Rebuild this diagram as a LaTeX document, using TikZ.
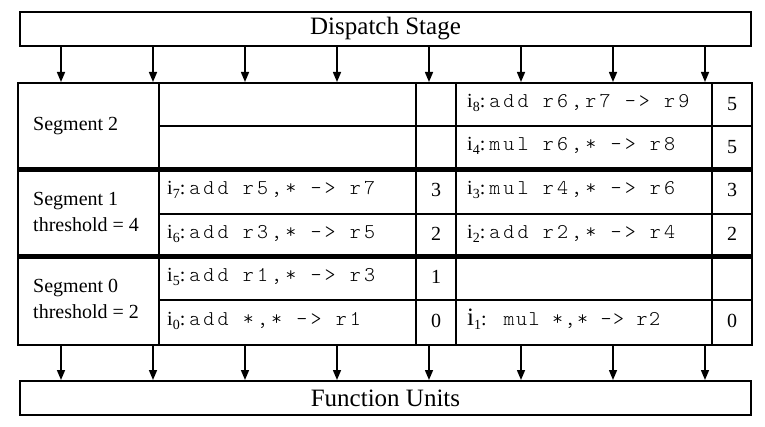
\documentclass[tikz,border=0pt]{standalone}
\usepackage{fontspec}
\setmainfont{Liberation Serif}
\newfontfamily\codefont[LetterSpace=15]{lmmonolt10-regular.otf}
\newfontfamily\codefontnarrow[LetterSpace=7]{lmmonolt10-regular.otf}
\usetikzlibrary{arrows.meta}

% #1 size of i, #2 index, #3 gap, #4 code font, #5 code
\newcommand{\instr}[5]{{\fontsize{#1}{#1}\selectfont i}\raisebox{-4pt}{\fontsize{14}{14}\selectfont #2}:\hspace{#3}{#4\fontsize{21}{21}\selectfont #5}}

\begin{document}
\begin{tikzpicture}[x=1pt, y=-1pt,
	stagebox/.style={draw, line width=2pt, minimum width=731pt, minimum height=34pt, inner sep=0pt, font=\fontsize{25}{30}\selectfont},
	thinline/.style={line width=1.5pt},
	thickline/.style={line width=5pt},
	feed/.style={line width=1.5pt, -{Triangle[width=8pt,length=10pt]}},
	seglabel/.style={anchor=west, align=left, inner sep=0pt, font=\fontsize{20}{26}\selectfont},
	instrtext/.style={anchor=base west, inner sep=0pt, font=\fontsize{20}{24}\selectfont},
	prio/.style={inner sep=0pt, font=\fontsize{20}{24}\selectfont}]
	\useasboundingbox (0,0) rectangle (765,427);
	% stages
	\node[stagebox] (dispatch) at (385.5,29) {Dispatch Stage};
	\node[stagebox] (units) at (385.5,398) {Function Units};
	% issue queue grid
	\draw[line width=2pt] (18,83) rectangle (752,345);
	\foreach \x in {159,416,456,712}
		\draw[thinline] (\x,83) -- (\x,345);
	\foreach \y in {126,214,300}
		\draw[thinline] (159,\y) -- (752,\y);
	\foreach \y in {170,257}
		\draw[thickline] (18,\y) -- (752,\y);
	% arrows in and out
	\foreach \x [count=\i] in {61,153,245,337,429,521,613,705} {
		\coordinate (in\i) at (\x,82);
		\coordinate (out\i) at (\x,345);
		\draw[feed] (dispatch.south -| in\i) -- (in\i);
		\draw[feed] (out\i) -- (units.north -| out\i);
	}
	% segment labels
	\node[seglabel] (seg2) at (33,126) {Segment 2};
	\node[seglabel] (seg1) at (33,212) {Segment 1\\threshold = 4};
	\node[seglabel] (seg0) at (33,299) {Segment 0\\threshold = 2};
	% instructions
	\node[instrtext] (i7) at (167,195) {\instr{20}{7}{4pt}{\codefont}{add r5,* -> r7}};
	\node[instrtext] (i6) at (167,238.5) {\instr{20}{6}{4pt}{\codefont}{add r3,* -> r5}};
	\node[instrtext] (i5) at (167,281.5) {\instr{20}{5}{4pt}{\codefont}{add r1,* -> r3}};
	\node[instrtext] (i0) at (167,325.5) {\instr{20}{0}{4pt}{\codefont}{add *,* -> r1}};
	\node[instrtext] (i8) at (467,107.5) {\instr{20}{8}{4pt}{\codefont}{add r6,r7 -> r9}};
	\node[instrtext] (i4) at (467,151) {\instr{20}{4}{4pt}{\codefont}{mul r6,* -> r8}};
	\node[instrtext] (i3) at (467,195) {\instr{20}{3}{4pt}{\codefont}{mul r4,* -> r6}};
	\node[instrtext] (i2) at (467,238.5) {\instr{20}{2}{4pt}{\codefont}{add r2,* -> r4}};
	\node[instrtext] (i1) at (467,326) {\instr{25}{1}{17pt}{\codefontnarrow}{mul *,* -> r2}};
	% priorities
	\node[prio] (p7) at (436,190) {3};
	\node[prio] (p6) at (436,233.5) {2};
	\node[prio] (p5) at (436,276.5) {1};
	\node[prio] (p0) at (436,320.5) {0};
	\node[prio] (p8) at (732,104) {5};
	\node[prio] (p4) at (732,147) {5};
	\node[prio] (p3) at (732,190) {3};
	\node[prio] (p2) at (732,233.5) {2};
	\node[prio] (p1) at (732,320.5) {0};
\end{tikzpicture}
\end{document}
